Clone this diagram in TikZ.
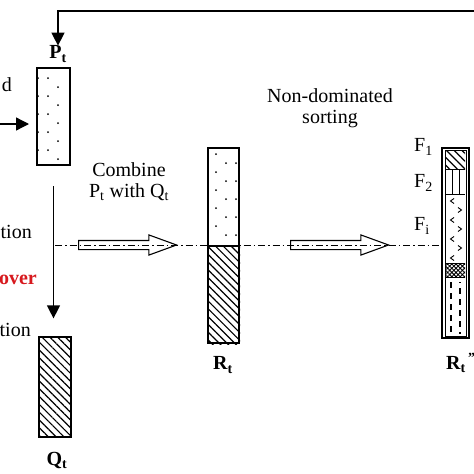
\documentclass[tikz,border=0pt]{standalone}
\usepackage{fontspec}
\setmainfont{Liberation Serif}
\usetikzlibrary{shapes.arrows, arrows.meta, positioning, patterns.meta}
\definecolor{crossred}{RGB}{215,25,30}
\tikzset{
    popbox/.style={rectangle, draw, line width=2pt, inner sep=0pt},
    hollow/.style={single arrow, draw, line width=1.1pt, inner xsep=0pt, inner ysep=4pt, single arrow head extend=5.5pt, single arrow tip angle=40, anchor=tail},
    flow/.style={line width=1.3pt, -{Triangle[length=13pt, width=13pt]}},
    midline/.style={line width=1pt, dash pattern=on 7pt off 3pt on 1.5pt off 3pt},
    hatch/.style={pattern={Lines[angle=-45, distance=5.5pt, line width=1.2pt]}},
    txt/.style={inner sep=0pt, align=center}
}
\begin{document}
\begin{tikzpicture}[x=1pt, y=-1pt, font=\fontsize{20}{21}\selectfont]
    \useasboundingbox (0,0) rectangle (474,474);

    % Populations P_t and Q_t
    \node[popbox, minimum width=33pt, minimum height=97pt] (Pt) at (53.5,116.5) {};
    \node[popbox, hatch, minimum width=32pt, minimum height=100pt] (Qt) at (55,387) {};
    \node[txt] (PtL) at (58,54) {\bfseries P\textsubscript{t}};
    \node[txt] (QtL) at (57,460) {\bfseries Q\textsubscript{t}};
    \foreach \y in {11,29,...,92} \fill ([shift={(2,\y)}]Pt.north west) circle (1pt);
    \foreach \y in {11,29,...,92} \fill ([shift={(12,\y)}]Pt.north west) circle (1pt);
    \foreach \y in {20,38,...,92} \fill ([shift={(22,\y)}]Pt.north west) circle (1pt);

    % Left side texts (cut off)
    \node[txt, anchor=east] (init) at (12,85) {d};
    \node[txt, anchor=east] (sel) at (32,232) {tion};
    \node[txt, anchor=east, text=crossred] (cross) at (37,280) {\bfseries over};
    \node[txt, anchor=east] (mut) at (31,330) {tion};

    % Combined population R_t
    \node[popbox, minimum width=31pt, minimum height=195pt] (Rt) at (223.5,245.5) {};
    \fill[hatch] (Rt.west) rectangle (Rt.south east);
    \draw[line width=2pt] (Rt.west) -- (Rt.east);
    \foreach \y in {7,25,...,90} \fill ([shift={(9,\y)}]Rt.north west) circle (1pt);
    \foreach \y in {16,34,...,90} \fill ([shift={(19,\y)}]Rt.north west) circle (1pt);
    \foreach \y in {16,34,...,90} \fill ([shift={(29,\y)}]Rt.north west) circle (1pt);
    \node[txt] (RtL) at (223,365) {\bfseries R\textsubscript{t}};

    % Sorted population
    \node[popbox, minimum width=27pt, minimum height=190pt] (Rpp) at (455.5,243) {};
    \draw[line width=1pt] ([shift={(4,3)}]Rpp.north west) rectangle ([shift={(-4,-3)}]Rpp.south east);
    \fill[hatch] (446,151) rectangle (465,169);
    \draw[line width=1pt] (446,169) -- (465,169);
    \draw[line width=1pt] (452,169) -- (452,194) (459,169) -- (459,194);
    \draw[line width=1pt] (446,194) -- (465,194);
    \foreach \y in {201,220,239,258} \draw[line width=0.9pt] (454,\y-2.5) -- (450.5,\y) -- (454,\y+2.5);
    \foreach \y in {210,229,248} \draw[line width=0.9pt] (458,\y-2.5) -- (461.5,\y) -- (458,\y+2.5);
    \fill[pattern={Hatch[angle=45, distance=3pt, line width=0.9pt]}] (446,263) rectangle (465,277);
    \draw[line width=1pt] (446,263) -- (465,263) (446,277) -- (465,277);
    \draw[line width=1.2pt, dash pattern=on 6pt off 5pt] (451,282) -- (451,334);
    \draw[line width=1.2pt, dash pattern=on 6pt off 5pt, dash phase=5pt] (460,282) -- (460,334);
    \node[txt, anchor=west] (F1) at (414,147) {F\textsubscript{1}};
    \node[txt, anchor=west] (F2) at (414,183) {F\textsubscript{2}};
    \node[txt, anchor=west] (Fi) at (414,226) {F\textsubscript{i}};
    \node[txt, anchor=west] (RppL) at (446,363) {\bfseries R\textsubscript{t}\textsuperscript{\,''}};

    % Step texts
    \node[txt] (comb) at (129,182) {Combine\\P\textsubscript{t} with Q\textsubscript{t}};
    \node[txt] (sort) at (330,108) {Non-dominated\\sorting};

    % Connectors
    \coordinate (back) at (478,11);
    \coordinate (inL) at (0,124);
    \coordinate (cut) at (55,245);
    \draw[flow] (back) -| (PtL);
    \draw[flow, shorten >=7pt] (inL) -- (Pt.west |- inL);
    \draw[flow, shorten <=20pt, shorten >=18pt] (Pt.south) -- (Pt.south |- Qt.north);
    \draw[midline] (cut) -- (Rpp.west |- cut);
    \node[hollow, minimum height=98pt] (toR) at (78,245) {};
    \node[hollow, minimum height=98pt] (toF) at (290,245) {};
\end{tikzpicture}
\end{document}
